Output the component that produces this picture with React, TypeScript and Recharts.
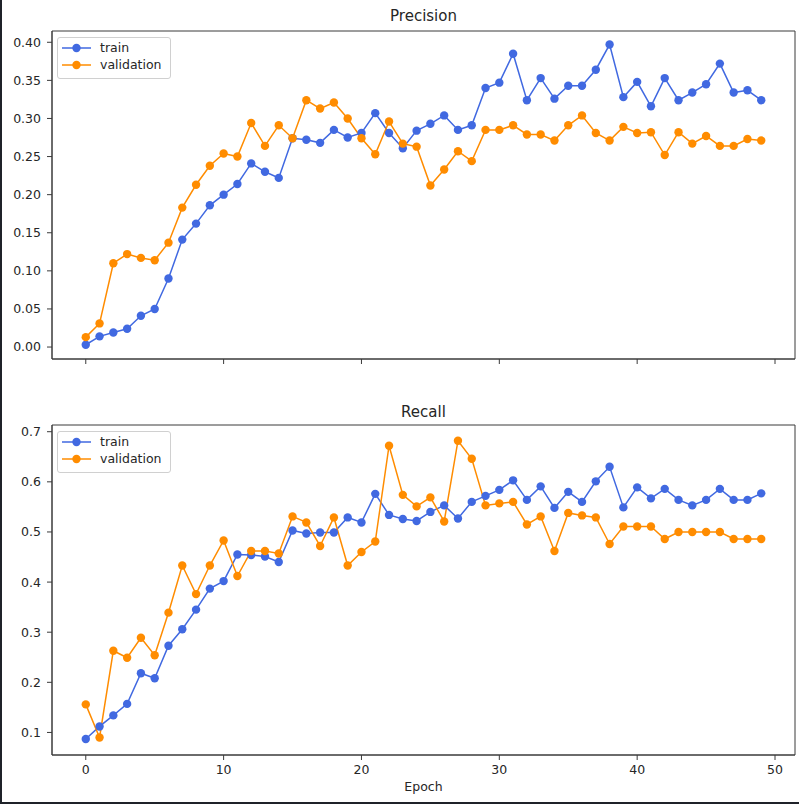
import React from 'react';
import { LineChart, Line, XAxis, YAxis, Legend, ReferenceArea } from 'recharts';

// --- DATA ---
const epochs = [
  0, 1, 2, 3, 4, 5, 6, 7, 8, 9, 10, 11, 12, 13, 14, 15, 16, 17, 18, 19, 20, 21, 22, 23, 24,
  25, 26, 27, 28, 29, 30, 31, 32, 33, 34, 35, 36, 37, 38, 39, 40, 41, 42, 43, 44, 45, 46, 47, 48, 49,
];

const precisionTrain = [
  0.003, 0.014, 0.019, 0.024, 0.041, 0.05, 0.09, 0.141, 0.162, 0.186, 0.2, 0.214, 0.241, 0.23, 0.222,
  0.274, 0.272, 0.268, 0.285, 0.275, 0.281, 0.307, 0.281, 0.261, 0.284, 0.293, 0.304, 0.285, 0.291,
  0.34, 0.347, 0.385, 0.324, 0.353, 0.326, 0.343, 0.343, 0.364, 0.397, 0.328, 0.348, 0.316, 0.353,
  0.324, 0.334, 0.345, 0.372, 0.334, 0.337, 0.324,
];

const precisionVal = [
  0.013, 0.031, 0.11, 0.122, 0.117, 0.114, 0.137, 0.183, 0.213, 0.238, 0.254, 0.25, 0.294, 0.264, 0.291,
  0.274, 0.324, 0.313, 0.321, 0.3, 0.274, 0.253, 0.296, 0.267, 0.263, 0.212, 0.233, 0.257, 0.244,
  0.285, 0.285, 0.291, 0.279, 0.279, 0.271, 0.291, 0.304, 0.281, 0.271, 0.289, 0.281, 0.282, 0.252,
  0.282, 0.267, 0.277, 0.264, 0.264, 0.273, 0.271,
];

const recallTrain = [
  0.087, 0.112, 0.134, 0.157, 0.218, 0.208, 0.273, 0.306, 0.345, 0.387, 0.402, 0.455, 0.454, 0.451, 0.44,
  0.503, 0.497, 0.499, 0.499, 0.529, 0.519, 0.576, 0.534, 0.526, 0.522, 0.54, 0.553, 0.527, 0.56,
  0.572, 0.584, 0.603, 0.564, 0.591, 0.548, 0.58, 0.56, 0.601, 0.63, 0.549, 0.589, 0.567, 0.586,
  0.564, 0.553, 0.564, 0.586, 0.564, 0.564, 0.577,
];

const recallVal = [
  0.156, 0.09, 0.263, 0.249, 0.289, 0.254, 0.339, 0.433, 0.376, 0.433, 0.483, 0.412, 0.462, 0.462, 0.457,
  0.531, 0.519, 0.472, 0.529, 0.433, 0.46, 0.481, 0.672, 0.574, 0.551, 0.569, 0.521, 0.682, 0.646,
  0.553, 0.557, 0.56, 0.515, 0.531, 0.462, 0.538, 0.533, 0.529, 0.476, 0.511, 0.511, 0.511, 0.486,
  0.5, 0.5, 0.5, 0.5, 0.486, 0.486, 0.486,
];

const xTicks = [0, 10, 20, 30, 40, 50];
const precisionTicks = [0, 0.05, 0.1, 0.15, 0.2, 0.25, 0.3, 0.35, 0.4];
const recallTicks = [0.1, 0.2, 0.3, 0.4, 0.5, 0.6, 0.7];

// --- STYLE ---
const FONT = '"DejaVu Sans", sans-serif';
const BLUE = '#4169e1';
const ORANGE = '#ff8c00';
const AXIS = '#3a3a3a';
const TEXT = '#262626';
const X_DOMAIN = [-2.45, 51.45];

const precisionData = epochs.map((e, i) => ({ epoch: e, train: precisionTrain[i], validation: precisionVal[i] }));
const recallData = epochs.map((e, i) => ({ epoch: e, train: recallTrain[i], validation: recallVal[i] }));

const tickStyle = { fill: TEXT, fontSize: 12.5, fontFamily: FONT };

const LegendBox = () => (
  <div
    style={{
      boxSizing: 'border-box',
      width: 114,
      height: 42,
      border: '1px solid #d0d0d0',
      borderRadius: 3,
      background: 'rgba(255,255,255,0.8)',
      paddingTop: 1,
      fontFamily: FONT,
      fontSize: 12.5,
      color: TEXT,
    }}
  >
    {[
      { name: 'train', color: BLUE },
      { name: 'validation', color: ORANGE },
    ].map((item) => (
      <div key={item.name} style={{ display: 'flex', alignItems: 'center', height: 17.6 }}>
        <svg width={29} height={10} style={{ marginLeft: 4, marginRight: 9 }}>
          <line x1={0} y1={5} x2={29} y2={5} stroke={item.color} strokeWidth={1.5} />
          <circle cx={14.5} cy={5} r={4.2} fill={item.color} />
        </svg>
        <span style={{ lineHeight: 1 }}>{item.name}</span>
      </div>
    ))}
  </div>
);

interface PanelProps {
  data: any[];
  height: number;
  marginTop: number;
  xAxisHeight: number;
  yDomain: number[];
  yTicks: number[];
  yDigits: number;
  showXLabels: boolean;
}

const Panel = ({ data, height, marginTop, xAxisHeight, yDomain, yTicks, yDigits, showXLabels }: PanelProps) => (
  <LineChart width={799} height={height} data={data} margin={{ top: marginTop, right: 4, bottom: 0, left: 0 }}>
    <XAxis
      dataKey="epoch"
      type="number"
      domain={X_DOMAIN}
      ticks={xTicks}
      allowDataOverflow
      height={xAxisHeight}
      tick={tickStyle}
      tickSize={5}
      tickMargin={5}
      tickFormatter={(v) => (showXLabels ? String(v) : '')}
      axisLine={{ stroke: AXIS }}
      tickLine={{ stroke: AXIS }}
    />
    <YAxis
      type="number"
      domain={yDomain}
      ticks={yTicks}
      allowDataOverflow
      width={52}
      tick={tickStyle}
      tickSize={5}
      tickMargin={6}
      tickFormatter={(v) => v.toFixed(yDigits)}
      axisLine={{ stroke: AXIS }}
      tickLine={{ stroke: AXIS }}
    />
    {/* axes frame (matplotlib spines) */}
    <ReferenceArea
      x1={X_DOMAIN[0]}
      x2={X_DOMAIN[1]}
      y1={yDomain[0]}
      y2={yDomain[1]}
      fill="none"
      fillOpacity={0}
      stroke={AXIS}
      strokeWidth={1}
      ifOverflow="visible"
    />
    <Legend
      layout="horizontal"
      verticalAlign="middle"
      align="center"
      content={() => <LegendBox />}
      wrapperStyle={{ left: 57, top: marginTop + 6, width: 114 }}
    />
    <Line
      dataKey="train"
      stroke={BLUE}
      strokeWidth={1.5}
      dot={{ r: 4.2, fill: BLUE, stroke: BLUE, strokeWidth: 0 }}
      activeDot={false}
      isAnimationActive={false}
    />
    <Line
      dataKey="validation"
      stroke={ORANGE}
      strokeWidth={1.5}
      dot={{ r: 4.2, fill: ORANGE, stroke: ORANGE, strokeWidth: 0 }}
      activeDot={false}
      isAnimationActive={false}
    />
  </LineChart>
);

const titleStyle: React.CSSProperties = {
  position: 'absolute',
  left: 52,
  width: 743,
  textAlign: 'center',
  fontFamily: FONT,
  color: TEXT,
  lineHeight: 1,
};

export default function App() {
  return (
    <div style={{ position: 'absolute', left: 0, top: 0, width: 799, height: 804, background: '#fff', overflow: 'hidden' }}>
      <div style={{ position: 'absolute', left: 0, top: 0 }}>
        <Panel
          data={precisionData}
          height={390}
          marginTop={31}
          xAxisHeight={31}
          yDomain={[-0.0157, 0.4148]}
          yTicks={precisionTicks}
          yDigits={2}
          showXLabels={false}
        />
      </div>
      <div style={{ position: 'absolute', left: 0, top: 390 }}>
        <Panel
          data={recallData}
          height={414}
          marginTop={35}
          xAxisHeight={49}
          yDomain={[0.055, 0.7134]}
          yTicks={recallTicks}
          yDigits={1}
          showXLabels
        />
      </div>
      <div style={{ ...titleStyle, top: 8.8, fontSize: 15 }}>Precision</div>
      <div style={{ ...titleStyle, top: 404.5, fontSize: 15 }}>Recall</div>
      <div style={{ ...titleStyle, top: 780.8, fontSize: 12.5 }}>Epoch</div>
      <div style={{ position: 'absolute', left: 0, top: 0, width: 2, height: 804, background: '#1f2229' }} />
      <div style={{ position: 'absolute', left: 0, top: 802, width: 799, height: 2, background: '#1f2229' }} />
    </div>
  );
}
